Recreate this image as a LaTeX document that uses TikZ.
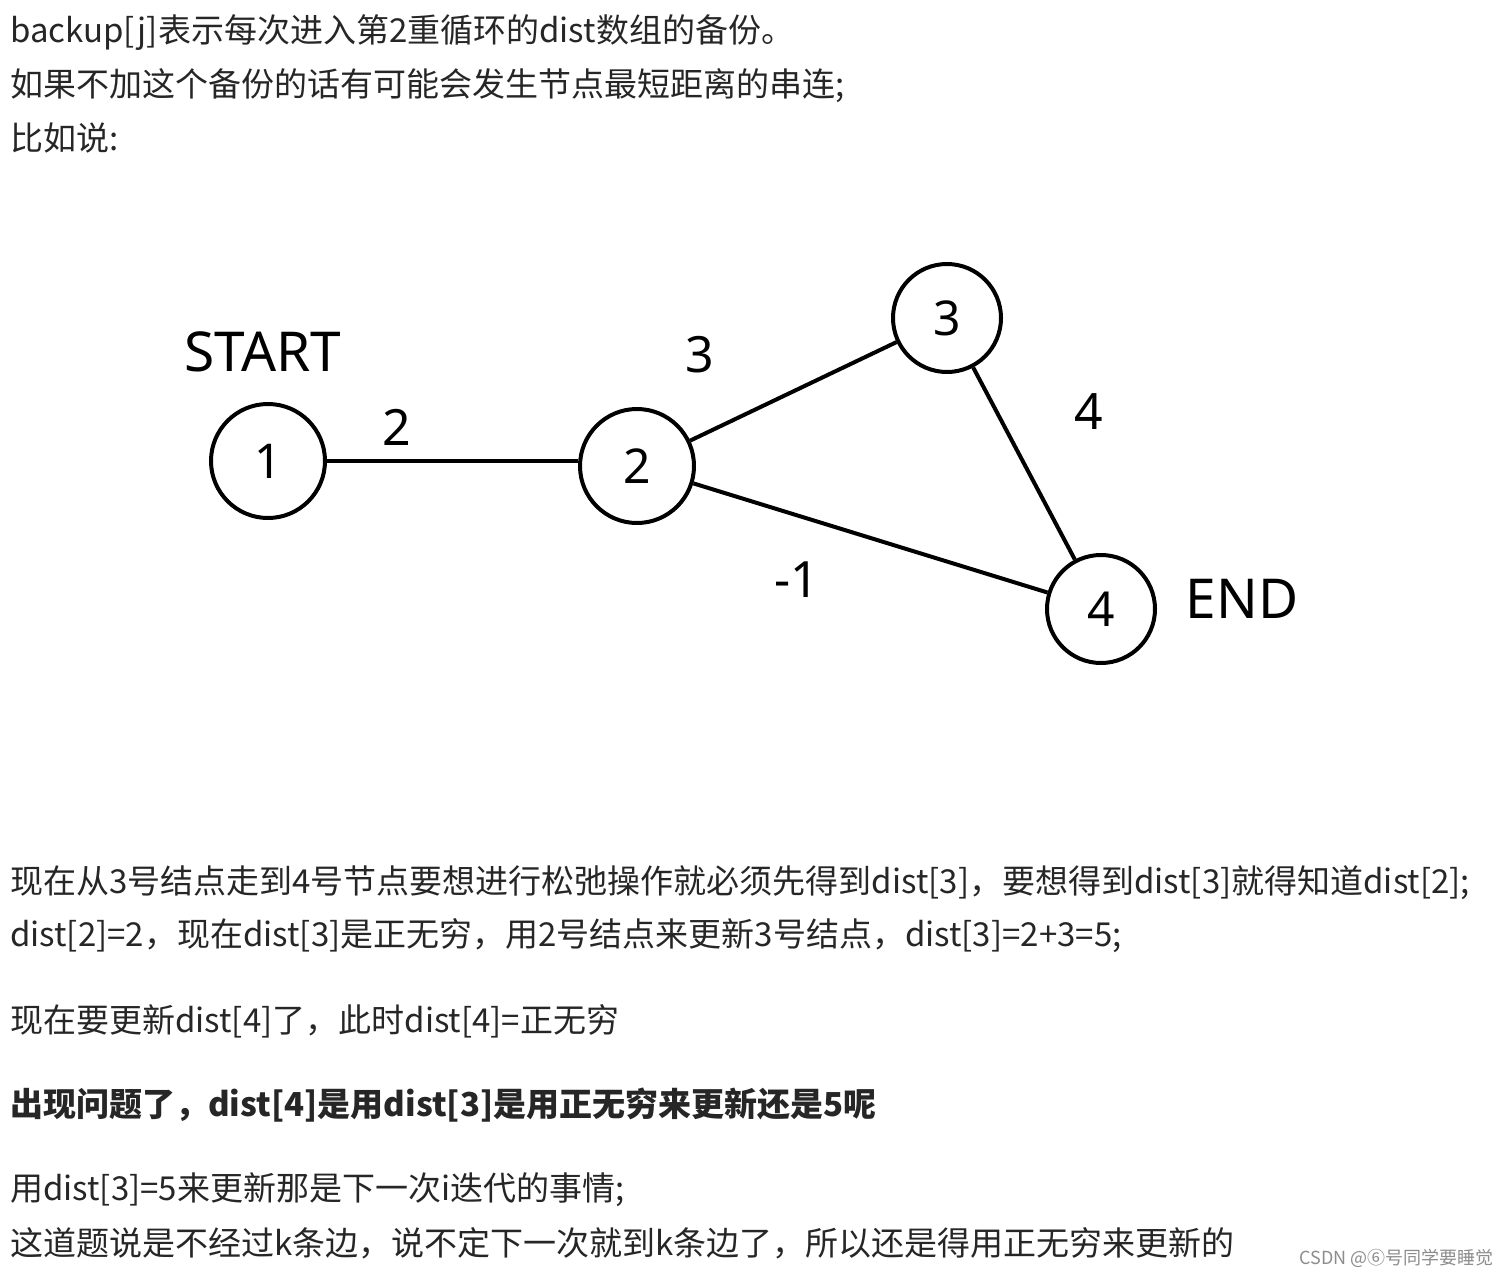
\documentclass[tikz,border=0pt]{standalone}
\usepackage{fontspec}
\setmainfont{Noto Sans CJK SC}
\newfontfamily\diag{Noto Sans}
\begin{document}
\begin{tikzpicture}[x=1pt,y=-1pt,
  txt/.style={anchor=west,inner sep=0pt,font=\fontsize{33}{33}\selectfont,text=black!85},
  vert/.style={circle,draw,line width=4pt,minimum size=114pt,inner sep=0pt,font=\diag\fontsize{48}{48}\selectfont},
  lbl/.style={inner sep=0pt,font=\diag\fontsize{50}{50}\selectfont},
  edge/.style={line width=4pt}]
\useasboundingbox (0,0) rectangle (1508,1277);
\node[txt] (t1) at (10,33) {backup[j]表示每次进入第2重循环的dist数组的备份。};
\node[txt] (t2) at (10,86) {如果不加这个备份的话有可能会发生节点最短距离的串连;};
\node[txt] (t3) at (10,138) {比如说:};
\node[vert] (n1) at (268,461) {1};
\node[vert] (n2) at (637,466) {2};
\node[vert,minimum size=108pt] (n3) at (947,318) {3};
\node[vert,minimum size=108pt] (n4) at (1101,609) {4};
\draw[edge] (n1.east) -- (n1 -| n2.west);
\draw[edge] (n2) -- (n3);
\draw[edge] (n2) -- (n4);
\draw[edge] (n3) -- (n4);
\node[lbl,font=\diag\fontsize{55}{55}\selectfont] (ls) at (263,352) {START};
\node[lbl] (l12) at (397,427) {2};
\node[lbl] (l23) at (700,355) {3};
\node[lbl] (l34) at (1089,412) {4};
\node[lbl] (l24) at (797,580) {-1};
\node[lbl,font=\diag\fontsize{55}{55}\selectfont] (le) at (1242,599) {END};
\node[txt] (t4) at (10,883) {现在从3号结点走到4号节点要想进行松弛操作就必须先得到dist[3]，要想得到dist[3]就得知道dist[2];};
\node[txt] (t5) at (10,936) {dist[2]=2，现在dist[3]是正无穷，用2号结点来更新3号结点，dist[3]=2+3=5;};
\node[txt] (t6) at (10,1021) {现在要更新dist[4]了，此时dist[4]=正无穷};
\node[txt,font=\fontsize{33}{33}\selectfont\bfseries] (t7) at (10,1105) {出现问题了，dist[4]是用dist[3]是用正无穷来更新还是5呢};
\node[txt] (t8) at (10,1190) {用dist[3]=5来更新那是下一次i迭代的事情;};
\node[txt] (t9) at (10,1243) {这道题说是不经过k条边，说不定下一次就到k条边了，所以还是得用正无穷来更新的};
\node[anchor=east,inner sep=0pt,font=\fontsize{18}{18}\selectfont,text=black!45] (wm) at (1494,1258) {CSDN @⑥号同学要睡觉};
\end{tikzpicture}
\end{document}
